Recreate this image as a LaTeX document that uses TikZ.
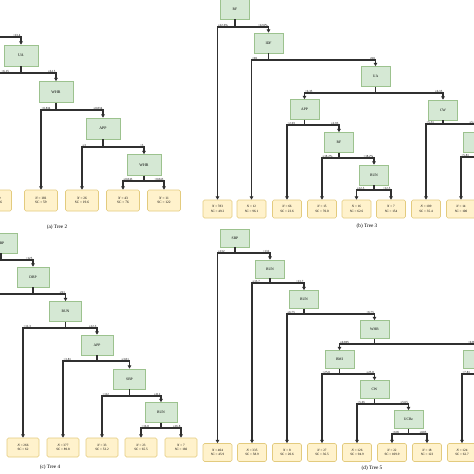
\documentclass[tikz,border=0pt]{standalone}
\usepackage{fontspec}
\setmainfont{Liberation Serif}
\usetikzlibrary{arrows.meta}
\definecolor{gfill}{HTML}{D5E8D4}
\definecolor{gdraw}{HTML}{9CC28E}
\definecolor{yfill}{HTML}{FFF2CC}
\definecolor{ydraw}{HTML}{E3CB7E}
\definecolor{lcol}{HTML}{303030}
\tikzset{
  inn/.style={draw=gdraw, fill=gfill, line width=0.6pt, inner sep=0pt, font=\fontsize{3.7}{4}\selectfont},
  leaf/.style={draw=ydraw, fill=yfill, line width=0.6pt, rounded corners=1.5pt, inner sep=0pt, align=center, font=\fontsize{3.3}{4.4}\selectfont},
  edge/.style={draw=lcol, line width=1.1pt, -{Triangle[length=3.4pt,width=3.6pt]}},
  plain/.style={draw=lcol, line width=1.1pt},
  elab/.style={inner sep=0.5pt, font=\fontsize{3.1}{3.4}\selectfont},
  capt/.style={inner sep=0pt, font=\fontsize{5.2}{6}\selectfont}
}
% parent, child, hline y, label, west|east
\newcommand{\tbr}[5]{%
  \draw[edge] (#1.south) -- (#1.south |- 0,#3) -| (#2.north);
  \node[elab, anchor=south #5] at (#2.north |- 0,#3) {#4};
}
\newcommand{\lf}[2]{\textit{N} = #1\\SC = #2}
\begin{document}
\begin{tikzpicture}[x=1pt,y=-1pt]
\useasboundingbox (0,0) rectangle (474,474);
\clip (0,0) rectangle (474,474);
\fill[white] (0,0) rectangle (474,474);

% ---------------- Tree 2 ----------------
\begin{scope}[inn/.append style={minimum width=34pt, minimum height=21pt, font=\fontsize{3.9}{4.2}\selectfont},
              leaf/.append style={minimum width=33pt, minimum height=21pt, font=\fontsize{3.5}{4.7}\selectfont}]
\coordinate (a0) at (-6,37);
\node[inn] (aUA) at (21,55.5) {UA};
\node[inn] (aWHR) at (56,92) {WHR};
\node[inn] (aAPP) at (103,128.5) {APP};
\node[inn] (aWHRb) at (144,165) {WHR};
\coordinate (aL) at (-8,73);
\node[leaf] (aL0) at (-5,200.5) {\lf{219}{52.6}};
\node[leaf] (aL1) at (41,200.5) {\lf{181}{59}};
\node[leaf] (aL2) at (82,200.5) {\lf{26}{19.6}};
\node[leaf] (aL3) at (123,200.5) {\lf{43}{76}};
\node[leaf] (aL4) at (164,200.5) {\lf{11}{122}};
\draw[edge] (a0) -| (aUA.north);
\node[elab, anchor=south east] at (aUA.north |- 0,37) {<23.4};
\draw[plain] (aUA.south) -- (aUA.south |- 0,73) -- (aL);
\node[elab, anchor=south west] at (1,73) {<6.15};
\tbr{aUA}{aWHR}{73}{≥6.15}{east}
\tbr{aWHR}{aL1}{110}{<0.834}{west}
\tbr{aWHR}{aAPP}{110}{≥0.834}{east}
\tbr{aAPP}{aL2}{147}{≥3}{west}
\tbr{aAPP}{aWHRb}{147}{<3}{east}
\tbr{aWHRb}{aL3}{181}{≥0.843}{west}
\tbr{aWHRb}{aL4}{181}{<0.843}{east}
\node[capt] (acap) at (57,227) {(a) Tree 2};
\end{scope}

% ---------------- Tree 3 ----------------
\begin{scope}[inn/.append style={minimum width=29pt, minimum height=20pt},
              leaf/.append style={minimum width=29pt, minimum height=18pt}]
\node[inn] (bRF) at (235,9) {RF};
\node[inn] (bIDF) at (268.5,43) {IDF};
\node[inn] (bUA) at (375.5,76.5) {UA};
\node[inn] (bAPP) at (304.5,109.5) {APP};
\node[inn] (bCW) at (443,110) {CW};
\node[inn] (bRFb) at (339,142.5) {RF};
\node[inn] (bBUN) at (374,175) {BUN};
\node[inn] (bX) at (477.5,142.5) {};
\coordinate (bXr) at (490,157);
\node[leaf] (bL1) at (217.5,209) {\lf{783}{49.2}};
\node[leaf] (bL2) at (251.5,209) {\lf{12}{96.1}};
\node[leaf] (bL3) at (287,209) {\lf{66}{23.6}};
\node[leaf] (bL4) at (322,209) {\lf{15}{70.0}};
\node[leaf] (bL5) at (356.5,209) {\lf{16}{62.6}};
\node[leaf] (bL6) at (391,209) {\lf{7}{154}};
\node[leaf] (bL7) at (426,209) {\lf{109}{35.4}};
\node[leaf] (bL8) at (461,209) {\lf{14}{100}};
\tbr{bRF}{bL1}{27}{≥22.6\%}{west}
\tbr{bRF}{bIDF}{27}{<22.6\%}{east}
\tbr{bIDF}{bL2}{60}{<90}{west}
\tbr{bIDF}{bUA}{60}{≥90}{east}
\tbr{bUA}{bAPP}{93}{<6.35}{west}
\tbr{bUA}{bCW}{93}{≥6.35}{east}
\tbr{bAPP}{bL3}{125}{<2.93}{west}
\tbr{bAPP}{bRFb}{125}{≥2.93}{east}
\tbr{bRFb}{bL4}{158}{≥18.2\%}{west}
\tbr{bRFb}{bBUN}{158}{<18.2\%}{east}
\tbr{bBUN}{bL5}{190}{≥12.5}{west}
\tbr{bBUN}{bL6}{190}{<12.5}{east}
\tbr{bCW}{bL7}{124}{<5.31}{west}
\tbr{bCW}{bX}{124}{≥5.31}{east}
\tbr{bX}{bL8}{157}{<5.81}{west}
\draw[plain] (bX.south) -- (bX.south |- 0,157) -- (bXr);
\node[capt] (bcap) at (367,226) {(b) Tree 3};
\end{scope}

% ---------------- Tree 4 ----------------
\begin{scope}[inn/.append style={minimum width=32pt, minimum height=20pt},
              leaf/.append style={minimum width=32pt, minimum height=19pt}]
\node[inn] (cSBP) at (1,243) {SBP};
\node[inn] (cDBP) at (33,277) {DBP};
\node[inn] (cBUN) at (65.5,311.5) {BUN};
\node[inn] (cAPP) at (97,345) {APP};
\node[inn] (cSBPb) at (129.5,379) {SBP};
\node[inn] (cBUNb) at (161,412.5) {BUN};
\coordinate (cSl) at (-20,260);
\coordinate (cDl) at (-12,294);
\node[leaf] (cL1) at (23,447.5) {\lf{266}{62}};
\node[leaf] (cL2) at (63,447.5) {\lf{377}{89.8}};
\node[leaf] (cL3) at (102,447.5) {\lf{33}{53.2}};
\node[leaf] (cL4) at (141,447.5) {\lf{23}{65.5}};
\node[leaf] (cL5) at (181,447.5) {\lf{7}{160}};
\draw[plain] (cSBP.south) -- (cSBP.south |- 0,260) -- (cSl);
\tbr{cSBP}{cDBP}{260}{<125}{east}
\draw[plain] (cDBP.south) -- (cDBP.south |- 0,294) -- (cDl);
\tbr{cDBP}{cBUN}{294}{≥91}{east}
\tbr{cBUN}{cL1}{328}{<12.3}{west}
\tbr{cBUN}{cAPP}{328}{≥12.3}{east}
\tbr{cAPP}{cL2}{361}{<3.81}{west}
\tbr{cAPP}{cSBPb}{361}{≥3.81}{east}
\tbr{cSBPb}{cL3}{396}{<112}{west}
\tbr{cSBPb}{cBUNb}{396}{≥112}{east}
\tbr{cBUNb}{cL4}{428}{<16.8}{west}
\tbr{cBUNb}{cL5}{428}{≥16.8}{east}
\node[capt] (ccap) at (50,467) {(c) Tree 4};
\end{scope}

% ---------------- Tree 5 ----------------
\begin{scope}[inn/.append style={minimum width=29pt, minimum height=18pt},
              leaf/.append style={minimum width=29pt, minimum height=18pt}]
\node[inn] (dSBP) at (235,238) {SBP};
\node[inn] (dBUN) at (270,269) {BUN};
\node[inn] (dBUNb) at (304,299.5) {BUN};
\node[inn] (dWHR) at (374.5,329.5) {WHR};
\node[inn] (dBMI) at (339.5,359.5) {BMI};
\node[inn] (dCW) at (374.5,389.5) {CW};
\node[inn] (dUC) at (408.5,419.5) {UCRe};
\node[inn] (dX) at (477.5,359) {};
\coordinate (dXr) at (490,374);
\node[leaf] (dL1) at (217.5,452.5) {\lf{404}{45.9}};
\node[leaf] (dL2) at (252,452.5) {\lf{335}{58.9}};
\node[leaf] (dL3) at (287,452.5) {\lf{8}{20.6}};
\node[leaf] (dL4) at (322,452.5) {\lf{27}{36.5}};
\node[leaf] (dL5) at (357,452.5) {\lf{126}{94.9}};
\node[leaf] (dL6) at (392,452.5) {\lf{22}{109.9}};
\node[leaf] (dL7) at (427,452.5) {\lf{18}{123}};
\node[leaf] (dL8) at (462,452.5) {\lf{124}{62.7}};
\tbr{dSBP}{dL1}{253}{≥132}{west}
\tbr{dSBP}{dBUN}{253}{<132}{east}
\tbr{dBUN}{dL2}{283}{≥13.7}{west}
\tbr{dBUN}{dBUNb}{283}{<13.7}{east}
\tbr{dBUNb}{dL3}{314}{≥6.75}{west}
\tbr{dBUNb}{dWHR}{314}{<6.75}{east}
\tbr{dWHR}{dBMI}{344}{≥0.895}{west}
\tbr{dWHR}{dX}{344}{<0.895}{east}
\tbr{dBMI}{dL4}{374}{<25.8}{west}
\tbr{dBMI}{dCW}{374}{≥25.8}{east}
\tbr{dCW}{dL5}{404}{<5.65}{west}
\tbr{dCW}{dUC}{404}{≥5.65}{east}
\tbr{dUC}{dL6}{434}{<605}{west}
\tbr{dUC}{dL7}{434}{≥605}{east}
\tbr{dX}{dL8}{374}{<7.81}{west}
\draw[plain] (dX.south) -- (dX.south |- 0,374) -- (dXr);
\node[capt] (dcap) at (372,468) {(d) Tree 5};
\end{scope}
\end{tikzpicture}
\end{document}
